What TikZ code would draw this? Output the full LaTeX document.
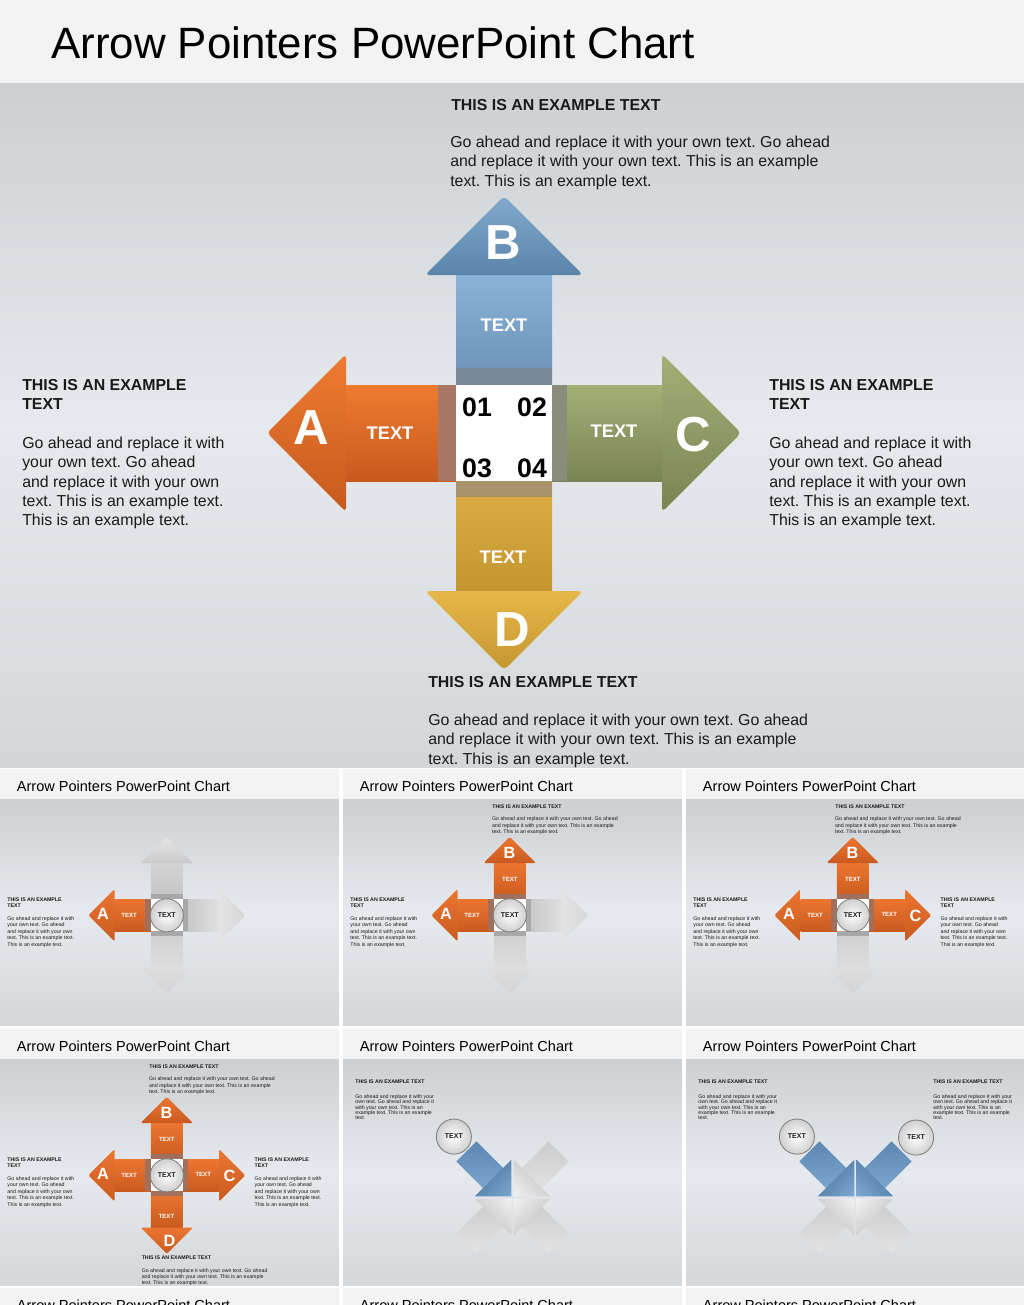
\documentclass[tikz,border=0pt]{standalone}
\usepackage{fontspec}
\setmainfont{Liberation Sans}
\usetikzlibrary{shadings}
\frenchspacing

\definecolor{titlebar}{HTML}{F3F3F3}
\definecolor{bgtop}{HTML}{CDD0D3}
\definecolor{bgmid}{HTML}{E6EAEE}
\definecolor{bgbot}{HTML}{D4D7DA}
\definecolor{textdark}{HTML}{1A1A1A}
\definecolor{orgtop}{HTML}{EF7B30}
\definecolor{orgbot}{HTML}{C65A1E}
\definecolor{bluetop}{HTML}{8AB3D8}
\definecolor{bluebot}{HTML}{5B84AB}
\definecolor{olivetop}{HTML}{A4AF77}
\definecolor{olivebot}{HTML}{7A8353}
\definecolor{goldtop}{HTML}{E8B749}
\definecolor{goldbot}{HTML}{C4962F}
\definecolor{bandorg}{HTML}{A97763}
\definecolor{bandblue}{HTML}{7A8797}
\definecolor{bandolive}{HTML}{8B8D7C}
\definecolor{bandgold}{HTML}{A8936B}
\definecolor{thorgtop}{HTML}{EC7631}
\definecolor{thorgbot}{HTML}{C95A1F}
\definecolor{thband}{HTML}{A0705C}
\definecolor{greyband}{HTML}{A8A8A8}
\definecolor{hubedge}{HTML}{CFCFCF}
\definecolor{hubline}{HTML}{808080}
\definecolor{xblue0}{HTML}{46719B}
\definecolor{xblue1}{HTML}{5B87B1}
\definecolor{xblue2}{HTML}{7EA9D2}

% one slide: title bar, background, title
\newcommand{\slidebase}[1]{%
  \fill[titlebar] (0,0) rectangle (1024,93);
  \shade[top color=bgtop, bottom color=bgbot, middle color=bgmid] (0,93) rectangle (1024,776);
  \node[titletext] (#1-title) at (51,68) {Arrow Pointers PowerPoint Chart};
}
% text blocks
\newcommand{\blocktop}[1]{%
  \node[heading] (#1-th) at (451,108) {THIS IS AN EXAMPLE TEXT};
  \node[bodytext] (#1-tb) at (450,144.5) {Go ahead and replace it with your own text. Go ahead\\and replace it with your own text. This is an example\\text. This is an example text.};
}
\newcommand{\blockbottom}[1]{%
  \node[heading] (#1-bh) at (428,685) {THIS IS AN EXAMPLE TEXT};
  \node[bodytext] (#1-bb) at (428,722.5) {Go ahead and replace it with your own text. Go ahead\\and replace it with your own text. This is an example\\text. This is an example text.};
}
\newcommand{\blockside}[2]{%
  \node[heading] (#1-sh) at (#2,388) {THIS IS AN EXAMPLE\\TEXT};
  \node[bodytext] (#1-sb) at (#2,445.5) {Go ahead and replace it with\\your own text. Go ahead\\and replace it with your own\\text. This is an example text.\\This is an example text.};
}
\newcommand{\xblock}[2]{%
  \node[heading] (#1-xh) at (#2,154.5) {THIS IS AN EXAMPLE TEXT};
  \node[xbody] (#1-xb) at (#2,197.5) {Go ahead and replace it with your\\own text. Go ahead and replace it\\with your own text. This is an\\example text. This is an example\\text.};
}
% arms of the cross: head, shaft, band
\newcommand{\armA}[3]{%
  \shade[#2] (-48,-48) rectangle (-158,48);
  \fill[#3] (-48,-48) rectangle (-66,48);
  \shade[#1] (-158,-79) -- (-237,0) -- (-158,79) -- cycle;
}
\newcommand{\armB}[3]{%
  \shade[#2] (-48,-48) rectangle (48,-158);
  \fill[#3] (-48,-48) rectangle (48,-65);
  \shade[#1] (-79,-158) -- (0,-237) -- (79,-158) -- cycle;
}
\newcommand{\armC}[3]{%
  \shade[#2] (48,-48) rectangle (158,48);
  \fill[#3] (48,-48) rectangle (63,48);
  \shade[#1] (158,-79) -- (237,0) -- (158,79) -- cycle;
}
\newcommand{\armD}[3]{%
  \shade[#2] (-48,48) rectangle (48,158);
  \fill[#3] (-48,48) rectangle (48,64);
  \shade[#1] (-79,158) -- (0,237) -- (79,158) -- cycle;
}
\newcommand{\labA}[1]{\node[bigletter] (#1-A) at (-193,-5) {A}; \node[armlabel] (#1-tA) at (-114,0) {TEXT};}
\newcommand{\labB}[1]{\node[bigletter] (#1-B) at (-1,-190) {B}; \node[armlabel] (#1-tB) at (0,-108) {TEXT};}
\newcommand{\labC}[1]{\node[bigletter] (#1-C) at (189,2) {C}; \node[armlabel] (#1-tC) at (110,-2) {TEXT};}
\newcommand{\labD}[1]{\node[bigletter] (#1-D) at (8,197) {D}; \node[armlabel] (#1-tD) at (-1,124) {TEXT};}
\newcommand{\hub}[1]{%
  \fill[white] (-48,-48) rectangle (48,48);
  \shadedraw[hubball] (0,0) circle (50);
  \node[hubtext] (#1-hub) at (0,0) {TEXT};
}
% X shaped layout: four arms, four triangles
\newcommand{\xdesign}[8]{%
  \shade[#1] (-108.9,-169.7) -- (-169.7,-108.9) -- (-72.8,-12) -- (-12,-72.8) -- cycle;
  \shade[#2] (108.9,-169.7) -- (169.7,-108.9) -- (72.8,-12) -- (12,-72.8) -- cycle;
  \shade[#3] (-108.9,169.7) -- (-169.7,108.9) -- (-72.8,12) -- (-12,72.8) -- cycle;
  \shade[#4] (108.9,169.7) -- (169.7,108.9) -- (72.8,12) -- (12,72.8) -- cycle;
  \shade[#5] (-114,-3.5) -- (-3.5,-114) -- (-3.5,-3.5) -- cycle;
  \shade[#6] (3.5,-114) -- (114,-3.5) -- (3.5,-3.5) -- cycle;
  \shade[#7] (-114,3.5) -- (-3.5,3.5) -- (-3.5,114) -- cycle;
  \shade[#8] (3.5,3.5) -- (114,3.5) -- (3.5,114) -- cycle;
}

\begin{document}
\begin{tikzpicture}[x=0.25mm, y=-0.25mm,
  titletext/.style={font=\fontsize{31.2}{31.2}\selectfont, anchor=base west, inner sep=0, text=black},
  heading/.style={font=\fontsize{11.3}{13.5}\selectfont\bfseries, anchor=north west, inner sep=0, align=left, text=textdark},
  bodytext/.style={font=\fontsize{11.3}{13.8}\selectfont, anchor=north west, inner sep=0, align=left, text=textdark},
  xbody/.style={bodytext, font=\fontsize{11.3}{10.4}\selectfont},
  bigletter/.style={font=\fontsize{35}{35}\selectfont\bfseries, text=white, inner sep=0},
  armlabel/.style={font=\fontsize{13}{13}\selectfont\bfseries, text=white, inner sep=0},
  numlabel/.style={font=\fontsize{19}{19}\selectfont\bfseries, text=black, inner sep=0},
  hubtext/.style={font=\fontsize{15}{15}\selectfont\bfseries, text=textdark, inner sep=0},
  hubball/.style={inner color=white, outer color=hubedge, draw=hubline, line width=0.6pt},
  headA/.style={top color=orgtop, bottom color=orgbot, rounded corners=3pt},
  shaftA/.style={top color=orgtop, bottom color=orgbot},
  headB/.style={top color=bluetop!95!black, bottom color=bluebot, rounded corners=3pt},
  shaftB/.style={top color=bluetop, bottom color=bluebot!90!white},
  headC/.style={top color=olivetop, bottom color=olivebot, rounded corners=3pt},
  shaftC/.style={top color=olivetop, bottom color=olivebot},
  headD/.style={top color=goldtop, bottom color=goldbot, rounded corners=3pt},
  shaftD/.style={top color=goldtop!95!black, bottom color=goldbot},
  orghead/.style={top color=thorgtop, bottom color=thorgbot, rounded corners=1pt},
  orgshaft/.style={top color=thorgtop, bottom color=thorgbot},
  orgband/.style={fill=thband},
  greyheadB/.style={top color=black!10, bottom color=black!21, rounded corners=1pt},
  greyshaftB/.style={top color=black!17, bottom color=black!23},
  greyheadC/.style={left color=black!11, right color=black!16, rounded corners=1pt},
  greyshaftC/.style={left color=black!23, right color=black!12},
  greyheadD/.style={top color=black!13, bottom color=black!17, rounded corners=1pt},
  greyshaftD/.style={top color=black!19, bottom color=black!13},
  greybandst/.style={fill=greyband},
  bluearm/.style={top color=xblue1, bottom color=xblue2},
  greyarm/.style={top color=black!20, bottom color=black!11},
  bluetriL/.style={upper left=xblue0, upper right=xblue1, lower left=xblue1, lower right=xblue2},
  bluetriR/.style={upper right=xblue0, upper left=xblue1, lower right=xblue1, lower left=xblue2},
  greytriR/.style={upper left=black!18, upper right=black!26, lower left=black!5, lower right=black!18},
  greytriBL/.style={upper left=black!18, upper right=black!5, lower left=black!26, lower right=black!18},
  greytriBR/.style={upper left=black!5, upper right=black!18, lower left=black!18, lower right=black!26},
]
\useasboundingbox (0,0) rectangle (1024,1305);
\clip (0,0) rectangle (1024,1305);
\fill[white] (0,0) rectangle (1024,1305);

% main slide
\begin{scope}[shift={(0,-9)}]
  \slidebase{m}
  \blocktop{m}
  \blockside{ml}{22}
  \blockside{mr}{769}
  \blockbottom{m}
  \begin{scope}[shift={(504,442)}]
    \armA{headA}{shaftA}{fill=bandorg}
    \armB{headB}{shaftB}{fill=bandblue}
    \armC{headC}{shaftC}{fill=bandolive}
    \armD{headD}{shaftD}{fill=bandgold}
    \fill[white] (-48,-48) rectangle (48,48);
    \node[numlabel] (m-n1) at (-27,-26) {01};
    \node[numlabel] (m-n2) at (28,-26) {02};
    \node[numlabel] (m-n3) at (-27,35) {03};
    \node[numlabel] (m-n4) at (28,35) {04};
    \labA{m} \labB{m} \labC{m} \labD{m}
  \end{scope}
\end{scope}

% thumbnails, first row
\begin{scope}[shift={(0,769)}, scale=0.331, transform shape]
  \slidebase{a}
  \blockside{a}{22}
  \begin{scope}[shift={(504,442)}]
    \armB{greyheadB}{greyshaftB}{greybandst}
    \armC{greyheadC}{greyshaftC}{greybandst}
    \armD{greyheadD}{greyshaftD}{greybandst}
    \armA{orghead}{orgshaft}{orgband}
    \labA{a}
    \hub{a}
  \end{scope}
\end{scope}
\begin{scope}[shift={(343,769)}, scale=0.331, transform shape]
  \slidebase{b}
  \blockside{b}{22}
  \blocktop{b}
  \begin{scope}[shift={(504,442)}]
    \armC{greyheadC}{greyshaftC}{greybandst}
    \armD{greyheadD}{greyshaftD}{greybandst}
    \armA{orghead}{orgshaft}{orgband}
    \armB{orghead}{orgshaft}{orgband}
    \labA{b} \labB{b}
    \hub{b}
  \end{scope}
\end{scope}
\begin{scope}[shift={(686,769)}, scale=0.331, transform shape]
  \slidebase{c}
  \blockside{c}{22}
  \blockside{cr}{769}
  \blocktop{c}
  \begin{scope}[shift={(504,442)}]
    \armD{greyheadD}{greyshaftD}{greybandst}
    \armA{orghead}{orgshaft}{orgband}
    \armB{orghead}{orgshaft}{orgband}
    \armC{orghead}{orgshaft}{orgband}
    \labA{c} \labB{c} \labC{c}
    \hub{c}
  \end{scope}
\end{scope}

% thumbnails, second row
\begin{scope}[shift={(0,1029)}, scale=0.331, transform shape]
  \slidebase{d}
  \blockside{d}{22}
  \blockside{dr}{769}
  \blocktop{d}
  \blockbottom{d}
  \begin{scope}[shift={(504,442)}]
    \armA{orghead}{orgshaft}{orgband}
    \armB{orghead}{orgshaft}{orgband}
    \armC{orghead}{orgshaft}{orgband}
    \armD{orghead}{orgshaft}{orgband}
    \labA{d} \labB{d} \labC{d} \labD{d}
    \hub{d}
  \end{scope}
\end{scope}
\begin{scope}[shift={(343,1029)}, scale=0.331, transform shape]
  \slidebase{e}
  \xblock{e}{37}
  \begin{scope}[shift={(512,509)}]
    \xdesign{bluearm}{greyarm}{greyarm}{greyarm}{bluetriL}{greytriR}{greytriBL}{greytriBR}
  \end{scope}
  \shadedraw[hubball] (335,325) circle (53);
  \node[hubtext] (e-hub) at (335,325) {TEXT};
\end{scope}
\begin{scope}[shift={(686,1029)}, scale=0.331, transform shape]
  \slidebase{f}
  \xblock{f}{37}
  \xblock{fr}{747}
  \begin{scope}[shift={(512,509)}]
    \xdesign{bluearm}{bluearm}{greyarm}{greyarm}{bluetriL}{bluetriR}{greytriBL}{greytriBR}
  \end{scope}
  \shadedraw[hubball] (335,325) circle (53);
  \node[hubtext] (f-hub) at (335,325) {TEXT};
  \shadedraw[hubball] (695,328) circle (53);
  \node[hubtext] (f-hub2) at (695,328) {TEXT};
\end{scope}

% third row, cut off
\foreach \col/\nm in {0/g, 343/h, 686/k}
  \begin{scope}[shift={(\col,1288)}, scale=0.331, transform shape]
    \slidebase{\nm}
  \end{scope};
\end{tikzpicture}
\end{document}
